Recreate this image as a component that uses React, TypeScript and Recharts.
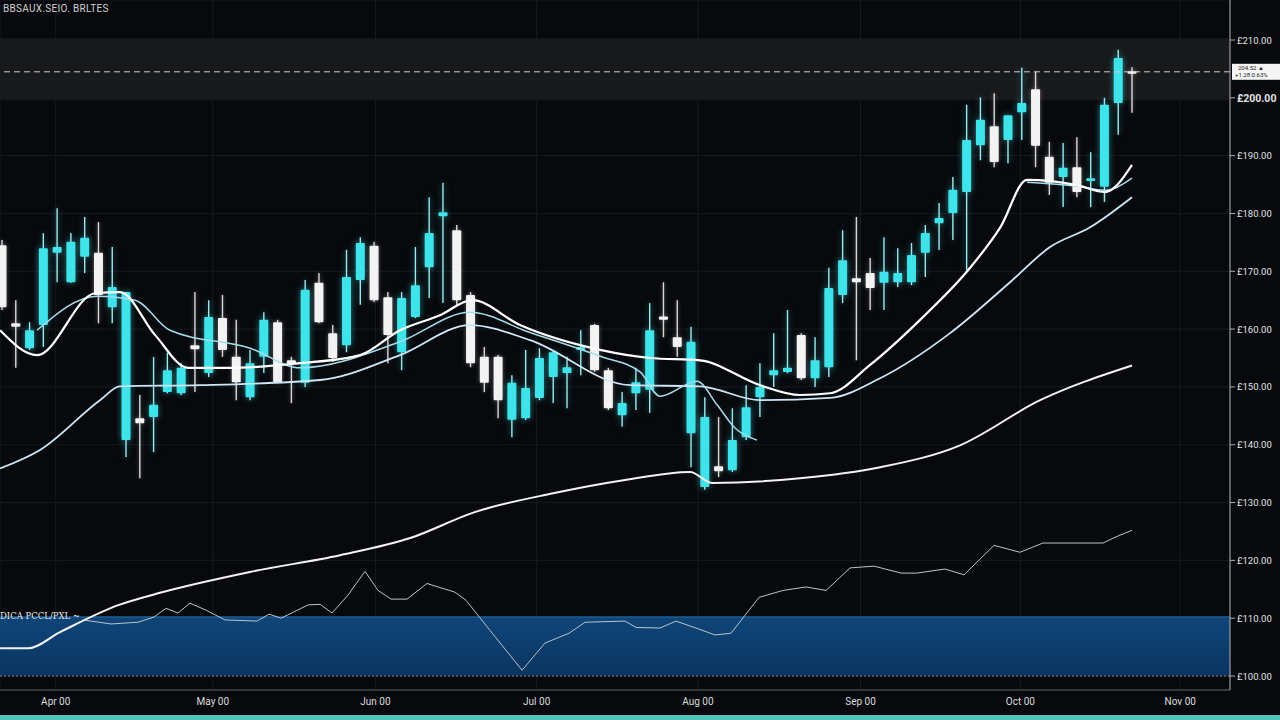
import React from "react";
import {
  ComposedChart,
  Bar,
  Line,
  XAxis,
  YAxis,
  CartesianGrid,
  ReferenceArea,
  ReferenceLine,
} from "recharts";

// ---------- data ----------
const opens = [
  174.5, 161.0, 156.7, 160.7, 173.2, 168.1, 172.5, 173.2, 163.8, 140.8,
  144.6, 144.8, 149.1, 148.9, 157.2, 152.4, 161.9, 155.2, 148.2, 155.2,
  161.2, 154.6, 150.7, 168.0, 159.3, 157.2, 168.5, 174.4, 165.5, 156.0,
  162.1, 170.7, 179.5, 177.1, 165.9, 155.2, 155.2, 144.3, 144.6, 148.1,
  151.7, 152.4, 156.4, 160.7, 152.9, 145.1, 148.9, 149.5, 162.2, 158.6,
  142.0, 132.7, 136.3, 135.6, 141.3, 148.2, 152.0, 152.6, 159.0, 151.5,
  153.4, 165.9, 168.8, 169.7, 168.0, 168.1, 168.1, 173.2, 178.3, 180.1,
  183.7, 191.8, 195.1, 192.7, 197.5, 201.5, 189.8, 186.3, 188.0, 185.6,
  184.6, 199.1, 204.6,
];
const closes = [
  163.8, 160.4, 159.8, 174.0, 174.2, 175.1, 175.8, 165.9, 167.3, 166.4,
  143.7, 146.9, 152.9, 153.3, 156.5, 162.1, 156.4, 150.8, 154.1, 161.6,
  150.8, 154.0, 166.8, 161.2, 155.0, 169.0, 174.9, 165.0, 159.0, 165.4,
  167.6, 176.6, 180.2, 165.0, 154.1, 150.7, 147.7, 150.7, 149.8, 155.0,
  156.0, 153.4, 156.9, 152.9, 146.3, 147.2, 150.8, 159.8, 161.6, 156.9,
  157.8, 144.8, 135.4, 140.8, 146.5, 150.0, 152.9, 153.3, 151.5, 154.6,
  167.1, 171.9, 168.1, 167.1, 169.9, 169.7, 172.8, 176.6, 179.2, 184.1,
  192.7, 196.2, 188.9, 197.0, 199.1, 191.7, 185.3, 187.9, 183.7, 186.1,
  198.8, 206.9, 204.3,
];
const highs = [
  175.4, 165.0, 161.2, 176.6, 180.9, 176.6, 179.4, 178.5, 174.2, 166.4,
  148.6, 155.2, 155.9, 154.1, 166.4, 165.0, 165.9, 161.6, 156.4, 162.9,
  161.6, 155.2, 168.5, 169.7, 160.7, 173.7, 175.9, 175.1, 166.4, 166.4,
  174.2, 182.8, 185.3, 178.0, 166.4, 156.9, 155.5, 152.0, 156.4, 156.7,
  156.4, 155.2, 159.8, 160.9, 153.3, 149.1, 153.3, 164.5, 168.1, 165.0,
  160.4, 148.2, 144.8, 146.3, 150.3, 154.1, 159.3, 163.3, 159.3, 158.6,
  170.6, 177.1, 179.4, 172.3, 175.9, 174.0, 174.9, 178.0, 181.8, 186.3,
  198.8, 200.1, 200.8, 197.0, 205.2, 204.5, 192.4, 192.2, 193.2, 190.6,
  200.0, 208.3, 205.3,
];
const lows = [
  163.3, 153.3, 156.4, 156.9, 168.1, 168.0, 169.7, 161.0, 161.0, 137.9,
  134.2, 138.7, 148.9, 148.6, 149.1, 151.7, 155.2, 147.7, 147.7, 152.4,
  150.7, 147.2, 150.0, 161.0, 154.3, 156.0, 164.2, 164.7, 154.1, 152.9,
  161.9, 165.4, 164.5, 164.2, 153.4, 149.1, 144.6, 141.3, 144.3, 147.7,
  147.2, 146.3, 152.0, 152.6, 146.0, 143.1, 146.0, 145.5, 158.6, 155.2,
  136.1, 132.2, 134.4, 135.3, 140.8, 144.8, 150.0, 152.4, 151.2, 150.0,
  151.7, 164.5, 154.6, 163.3, 163.3, 167.3, 167.6, 169.0, 173.7, 175.4,
  170.2, 189.2, 188.0, 188.7, 192.7, 188.0, 183.2, 181.1, 182.8, 181.1,
  182.0, 193.6, 197.4,
];

// moving averages / oscillator: [bar position, value]
const maFast: [number, number][] = [
  [-0.14, 159.8], [2.54, 155.5], [6.75, 166.2], [8.56, 166.4], [11.1, 159.0],
  [13.5, 153.3], [16.55, 153.3], [21.63, 154.1], [25.98, 155.5], [28.88, 159.8],
  [31.78, 162.4], [34.11, 165.0], [37.59, 160.7], [43.4, 156.4], [47.02, 155.0],
  [50.65, 154.6], [55.01, 150.3], [57.91, 148.6], [60.09, 148.9], [62.99, 153.8],
  [66.62, 161.6], [70.25, 170.6], [72.42, 177.5], [74.38, 185.8], [78.01, 184.9],
  [80.04, 183.7], [82.0, 188.4],
];
const maMid: [number, number | null][] = [
  [2.54, 159.8], [6.89, 165.7], [9.65, 165.0], [12.19, 159.8], [18.0, 156.7],
  [21.63, 153.3], [28.88, 157.8], [33.96, 162.9], [38.32, 159.4], [43.4, 155.3],
  [46.3, 152.6], [47.75, 148.4], [50.44, 151.0], [51.89, 146.9], [53.19, 142.9],
  [54.79, 140.8], [60, null], [74.38, 185.4], [78.01, 184.7], [80.04, 184.0],
  [82.0, 186.1],
];
const maSlow: [number, number][] = [
  [-0.14, 135.9], [2.76, 139.1], [7.11, 147.7], [8.56, 150.1], [14.37, 150.3],
  [23.08, 151.2], [28.88, 155.5], [33.96, 160.7], [38.32, 158.1], [45.57, 150.3],
  [50.65, 150.1], [55.01, 147.7], [60.09, 148.1], [63.72, 151.5], [68.8, 159.3],
  [73.15, 168.1], [76.05, 174.2], [78.96, 177.6], [82.0, 182.8],
];
const maLong: [number, number][] = [
  [-0.14, 104.8], [1.89, 104.8], [4.21, 107.6], [8.49, 112.3], [11.32, 114.3],
  [18.0, 118.0], [24.53, 120.9], [29.68, 123.9], [34.25, 128.3], [39.99, 131.6],
  [45.21, 133.9], [49.93, 135.3], [51.52, 133.4], [57.91, 134.2], [63.72, 136.1],
  [69.52, 139.9], [75.33, 147.7], [82.0, 153.7],
];
const oscillator: [number, number][] = [
  [5.88, 109.7], [7.91, 109.0], [9.87, 109.3], [11.03, 110.2], [11.9, 111.7],
  [12.77, 110.9], [13.64, 112.6], [14.8, 111.4], [16.18, 109.7], [18.51, 109.5],
  [19.38, 110.7], [20.25, 110.0], [22.21, 112.3], [23.08, 112.4], [23.95, 110.9],
  [25.11, 114.0], [26.34, 118.1], [27.29, 114.8], [28.23, 113.3], [29.39, 113.3],
  [30.84, 116.0], [32.87, 114.5], [33.67, 113.1], [35.41, 107.9], [37.74, 101.0],
  [39.4, 105.7], [41.15, 107.4], [42.31, 109.3], [45.21, 109.5], [46.01, 108.4],
  [47.75, 108.3], [48.91, 109.5], [50.36, 108.3], [51.74, 107.1], [52.9, 107.4],
  [54.93, 113.6], [56.68, 114.8], [58.35, 115.4], [59.8, 114.8], [61.54, 118.7],
  [63.28, 119.0], [65.24, 117.8], [66.4, 117.8], [68.43, 118.5], [69.81, 117.5],
  [71.99, 122.6], [73.87, 121.4], [75.54, 123.0], [79.9, 123.0], [80.77, 124.0],
  [82.0, 125.2],
];

const yTicks = [100, 110, 120, 130, 140, 150, 160, 170, 180, 190, 200, 210];
const yTickLabels = [
  "£100.00", "£110.00", "£120.00", "£130.00", "£140.00", "£150.00",
  "£160.00", "£170.00", "£180.00", "£190.00", "£200.00", "£210.00",
];
const xTicks = [3.9, 15.3, 27.1, 38.8, 50.5, 62.3, 73.9, 85.5];
const xTickLabels = ["Apr 00", "May 00", "Jun 00", "Jul 00", "Aug 00", "Sep 00", "Oct 00", "Nov 00"];

const lastPrice = 204.5;
const priceTagLines = ["204.52  ▲", "+1.28  0.63%"];
const titleText = "BBSAUX.SEIO. BRLTES";
const paneLabel = "DICA PCCL/PXL ~";

// ---------- derived ----------
const candles = opens.map((o, idx) => ({
  i: idx,
  o,
  h: highs[idx],
  l: lows[idx],
  c: closes[idx],
}));
const toPts = (arr: [number, number | null][]) => arr.map(([i, v]) => ({ i, v }));

const CYAN = "#3fe3ea";
const WHITE = "#f3f3f3";
const FONT = "Roboto, 'Liberation Sans', sans-serif";
const BODY_W = 9;

const Candle = (props: any) => {
  const { x, y, width, height, payload } = props;
  if (x == null || y == null || !payload) return null;
  const top = Math.min(y, y + height);
  const bot = Math.max(y, y + height);
  const { o, h, l, c } = payload;
  const span = h - l || 1;
  const py = (v: number) => top + ((h - v) / span) * (bot - top);
  const up = c >= o;
  const cx = x + (Number.isFinite(width) ? width : 0) / 2;
  const bTop = py(Math.max(o, c));
  const bBot = py(Math.min(o, c));
  const bh = Math.max(bBot - bTop, 2.5);
  return (
    <g
      style={{
        filter: up
          ? "drop-shadow(0 0 3px rgba(60,225,235,0.55))"
          : "drop-shadow(0 0 2px rgba(255,255,255,0.35))",
      }}
    >
      <line x1={cx} x2={cx} y1={top} y2={bot} stroke={up ? "#9fe9ee" : "#d9d9d9"} strokeWidth={1.4} />
      <rect x={cx - BODY_W / 2} y={bTop} width={BODY_W} height={bh} fill={up ? CYAN : WHITE} rx={1} />
    </g>
  );
};

const YTick = (props: any) => {
  const { x, y, payload } = props;
  const idx = yTicks.indexOf(payload.value);
  const bold = payload.value === 200;
  return (
    <text
      x={x}
      y={y}
      dy={bold ? 4 : 3.5}
      fill="#e2e2e2"
      fontSize={bold ? 10.5 : 9.5}
      fontWeight={bold ? 700 : 400}
      fontFamily={FONT}
      textAnchor="start"
    >
      {idx >= 0 ? yTickLabels[idx] : ""}
    </text>
  );
};

const PriceTag = (props: any) => {
  const vb = props.viewBox || {};
  const xx = (vb.x || 0) + (vb.width || 0) + 2;
  const yy = vb.y || 0;
  return (
    <g>
      <rect x={xx} y={yy - 8} width={48} height={16} fill="#f5f5f5" />
      <text x={xx + 6} y={yy - 1.5} fontSize={6} fill="#222" fontFamily={FONT}>
        {priceTagLines[0]}
      </text>
      <text x={xx + 3} y={yy + 5.5} fontSize={6} fill="#222" fontFamily={FONT}>
        {priceTagLines[1]}
      </text>
    </g>
  );
};

export default function App() {
  return (
    <div
      style={{
        position: "absolute",
        left: 0,
        top: 0,
        width: 1280,
        height: 720,
        background: "#07090c",
        overflow: "hidden",
      }}
    >
      <ComposedChart
        width={1280}
        height={720}
        data={candles}
        margin={{ top: 0, right: 0, bottom: 0, left: 0 }}
      >
        <defs>
          <linearGradient id="paneBlue" x1="0" y1="0" x2="0" y2="1">
            <stop offset="0%" stopColor="#0f4579" />
            <stop offset="100%" stopColor="#0a3561" />
          </linearGradient>
        </defs>
        <ReferenceArea y1={199.6} y2={210.3} fill="#18191b" fillOpacity={1} stroke="none" ifOverflow="visible" />
        <ReferenceArea y1={100.1} y2={110.2} fill="url(#paneBlue)" fillOpacity={1} stroke="none" ifOverflow="visible" />
        <ReferenceLine y={110.2} stroke="#1f5c94" strokeWidth={1.5} />
        <CartesianGrid stroke="#161d24" strokeOpacity={0.9} />
        <XAxis
          type="number"
          dataKey="i"
          domain={[-0.145, 89.11]}
          allowDataOverflow
          ticks={xTicks}
          tickFormatter={(v: number) => xTickLabels[xTicks.indexOf(v)] ?? ""}
          tickLine={false}
          axisLine={{ stroke: "#5a5a5a" }}
          tick={{ fill: "#dcdcdc", fontSize: 10, fontFamily: FONT }}
          height={30}
          interval={0}
        />
        <YAxis
          type="number"
          orientation="right"
          domain={[97.58, 216.92]}
          allowDataOverflow
          ticks={yTicks}
          interval={0}
          width={50}
          axisLine={{ stroke: "#b0b0b0" }}
          tickLine={{ stroke: "#b0b0b0" }}
          tickSize={5}
          tick={<YTick />}
        />
        <ReferenceLine y={100} stroke="#8a8a8a" strokeDasharray="2 2" />
        <ReferenceLine
          y={lastPrice}
          stroke="#cfcfcf"
          strokeDasharray="6 4"
          label={<PriceTag />}
        />
        <Line data={toPts(oscillator)} dataKey="v" type="linear" stroke="#b9c3cc" strokeWidth={1} dot={false} activeDot={false} isAnimationActive={false} />
        <Line data={toPts(maLong)} dataKey="v" type="monotone" stroke="#f2f2f2" strokeWidth={2} dot={false} activeDot={false} isAnimationActive={false} />
        <Line data={toPts(maSlow)} dataKey="v" type="monotone" stroke="#cfe6f7" strokeWidth={1.8} dot={false} activeDot={false} isAnimationActive={false} />
        <Line data={toPts(maMid)} dataKey="v" type="monotone" stroke="#a6dcec" strokeWidth={1.5} dot={false} activeDot={false} isAnimationActive={false} />
        <Line data={toPts(maFast)} dataKey="v" type="monotone" stroke="#ffffff" strokeWidth={2.2} dot={false} activeDot={false} isAnimationActive={false} />
        <Bar
          dataKey={(d: any) => [d.l, d.h]}
          barSize={9}
          isAnimationActive={false}
          shape={(p: any) => <Candle {...p} />}
        />
      </ComposedChart>
      <div
        style={{
          position: "absolute",
          left: 3,
          top: 3,
          fontFamily: FONT,
          fontSize: 10,
          color: "#cfcfcf",
          letterSpacing: 0.3,
        }}
      >
        {titleText}
      </div>
      <div
        style={{
          position: "absolute",
          left: 0,
          top: 611,
          fontFamily: "'DejaVu Serif', serif",
          fontSize: 8.5,
          color: "#e8e8e8",
        }}
      >
        {paneLabel}
      </div>
      <div
        style={{
          position: "absolute",
          left: 0,
          top: 715,
          width: 1280,
          height: 5,
          background: "#4fc4b8",
        }}
      />
    </div>
  );
}
